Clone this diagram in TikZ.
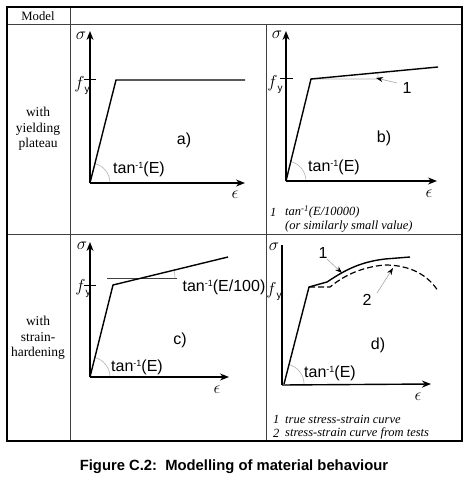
\documentclass[tikz,border=0pt]{standalone}
\usepackage{fontspec}
\setmainfont{Liberation Serif}
\newfontfamily\sansf{Liberation Sans}
\usetikzlibrary{arrows.meta}
\newcommand{\fyl}{$f$\raisebox{-4pt}{\sansf\fontsize{10}{10}\selectfont y}}
\newcommand{\tinv}{tan\raisebox{5pt}{\fontsize{9}{9}\selectfont -1}}
\begin{document}
\begin{tikzpicture}[x=1pt,y=-1pt,
  axis/.style={line width=1.4pt,-{Stealth[length=9pt,width=7pt]}},
  curve/.style={line width=1.4pt,line join=miter},
  dcurve/.style={line width=1.2pt,dash pattern=on 6pt off 3pt},
  grid/.style={line width=0.8pt,black!75},
  frame/.style={line width=2pt},
  tick/.style={line width=1pt},
  thinl/.style={gray!60,line width=0.6pt},
  ptr/.style={gray!70,line width=0.6pt,-{Stealth[length=7pt,width=5pt,black]}},
  lab/.style={font=\sansf\fontsize{16}{16}\selectfont,inner sep=0pt},
  grk/.style={font=\fontsize{17}{17}\selectfont,inner sep=0pt},
  rowlab/.style={font=\fontsize{13.5}{15.5}\selectfont,align=center,inner sep=0pt},
  note/.style={font=\itshape\fontsize{12.5}{14}\selectfont,inner sep=0pt,anchor=west},
  captext/.style={font=\sansf\bfseries\fontsize{14.8}{15}\selectfont,inner sep=0pt}]
\useasboundingbox (0,0) rectangle (474,481);
\fill[white] (0,0) rectangle (474,481);
% table
\draw[grid] (7,24) -- (462,24);
\draw[grid] (70,7) -- (70,441);
\draw[grid] (266,24) -- (266,441);
\draw[grid] (7,234) -- (462,234);
\draw[frame] (7,7) rectangle (462,441);
\node[font=\fontsize{12.7}{13}\selectfont,inner sep=0pt] (model) at (38,16) {Model};
\node[rowlab] (r1) at (38,129) {with\\yielding\\plateau};
\node[rowlab] (r2) at (38,338) {with\\strain-\\hardening};

% ---------- panel a
\coordinate (Oa) at (90,183);
\coordinate (Ya) at (90,31);
\coordinate (Xa) at (245,183);
\coordinate (Ea) at (116,80);
\coordinate (Pa) at (245,80);
\draw[thinl] (110,183) arc[start angle=0,end angle=-76,radius=20];
\draw[axis] (Oa) -- (Ya);
\draw[axis] (Oa) -- (Xa);
\draw[curve] (Oa) -- (Ea) -- (Pa);
\draw[tick] (84,80) -- (96,80);
\node[grk] (sa) at (81,36) {$\sigma$};
\node[grk] (fa) at (82,86) {\fyl};
\node[grk] (ea) at (235,195) {$\epsilon$};
\node[lab] (la) at (184,140) {a)};
\node[lab] (ta) at (139,169) {\tinv(E)};

% ---------- panel b
\coordinate (Ob) at (286,181);
\coordinate (Yb) at (286,31);
\coordinate (Xb) at (437,181);
\coordinate (Eb) at (311,79);
\coordinate (Pb) at (438,67);
\coordinate (Hb) at (378,79);
\coordinate (Tb) at (397,83);
\draw[thinl] (306,181) arc[start angle=0,end angle=-76,radius=20];
\draw[thinl] (Eb) -- (Hb) arc[start angle=0,end angle=-5.4,radius=67];
\draw[axis] (Ob) -- (Yb);
\draw[axis] (Ob) -- (Xb);
\draw[curve] (Ob) -- (Eb) -- (Pb);
\draw[tick] (280,79) -- (293,79);
\draw[ptr] (Tb) -- (376,78);
\node[grk] (sb) at (277,35) {$\sigma$};
\node[grk] (fb) at (275,85) {\fyl};
\node[grk] (eb) at (429,194) {$\epsilon$};
\node[lab] (nb1) at (407,88) {1};
\node[lab] (lb) at (384,138) {b)};
\node[lab] (tb) at (334,167) {\tinv(E)};
\node[note] (nb) at (270,212) {1};
\node[note] (nbt) at (285,212) {tan\textsuperscript{-1}(E/10000)};
\node[note] (nbt2) at (285,227) {(or similarly small value)};

% ---------- panel c
\coordinate (Oc) at (90,377);
\coordinate (Yc) at (90,242);
\coordinate (Xc) at (229,377);
\coordinate (Ec) at (113,285);
\coordinate (Pc) at (228,257);
\draw[thinl] (110,377) arc[start angle=0,end angle=-76,radius=20];
\draw[line width=0.7pt,black!75] (107,278) -- (177,278);
\draw[thinl] (175,278) arc[start angle=0,end angle=-13.7,radius=33];
\draw[axis] (Oc) -- (Yc);
\draw[axis] (Oc) -- (Xc);
\draw[curve] (Oc) -- (Ec) -- (Pc);
\draw[tick] (84,285) -- (96,285);
\node[grk] (sc) at (82,246) {$\sigma$};
\node[grk] (fc) at (83,289) {\fyl};
\node[grk] (ec) at (217,390) {$\epsilon$};
\node[lab] (lc) at (180,340) {c)};
\node[lab] (tc) at (137,367) {\tinv(E)};
\node[lab] (tc2) at (224,287) {\tinv(E/100)};

% ---------- panel d
\coordinate (Od) at (284,384);
\coordinate (Yd) at (282,245);
\coordinate (Yd0) at (282,385);
\coordinate (Xd) at (431,384);
\coordinate (Ed) at (309,287);
\draw[thinl] (304,384) arc[start angle=0,end angle=-76,radius=20];
\draw[line width=1.4pt] (Yd0) -- (Yd);
\draw[axis] (Yd0) -- (Xd);
\draw[curve] (Od) -- (Ed) -- (327,282) .. controls (345,270) and (360,262) .. (385,259) -- (410,257);
\draw[dcurve] (Ed) -- (330,287) .. controls (342,277) and (360,267) .. (385,265) .. controls (410,265) and (428,275) .. (438,291);
\draw[ptr] (327,259) -- (342,273);
\draw[ptr] (377,293) -- (393,268);
\node[grk] (sd) at (274,247) {$\sigma$};
\node[grk] (fd) at (274,292) {\fyl};
\node[grk] (ed) at (418,397) {$\epsilon$};
\node[lab] (nd1) at (323,253) {1};
\node[lab] (nd2) at (367,300) {2};
\node[lab] (ld) at (378,345) {d)};
\node[lab] (td) at (330,373) {\tinv(E)};
\node[note] (nd) at (273,419) {1};
\node[note] (ndt) at (285,419) {true stress-strain curve};
\node[note] (ndb) at (273,433) {2};
\node[note] (ndt2) at (285,433) {stress-strain curve from tests};

% caption
\node[captext] (caption) at (234,467) {Figure C.2:\ \ Modelling of material behaviour};
\end{tikzpicture}
\end{document}
